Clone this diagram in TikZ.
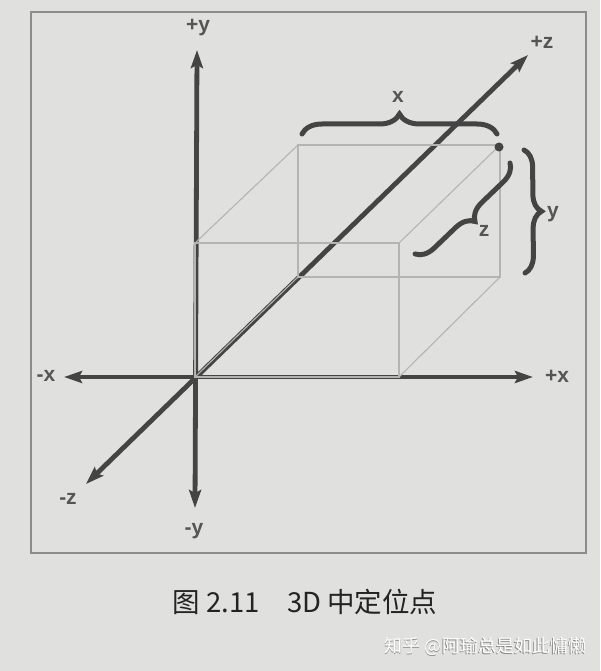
\documentclass[tikz,border=0pt]{standalone}
\usepackage{fontspec}
\setmainfont{Liberation Sans}
\newfontfamily\cjk{Noto Sans CJK SC}
\usetikzlibrary{arrows.meta,decorations.pathreplacing}
\definecolor{paper}{RGB}{224,224,222}
\definecolor{axisc}{RGB}{68,68,68}
\definecolor{boxc}{RGB}{180,180,178}
\definecolor{framec}{RGB}{140,140,140}
\definecolor{labc}{RGB}{85,85,85}
\definecolor{capc}{RGB}{35,35,35}
\begin{document}
\begin{tikzpicture}[x=1pt,y=-1pt,
  axisline/.style={line width=4.8pt, draw=axisc,
    {Stealth[length=18pt,width=12pt,inset=3pt]}-{Stealth[length=18pt,width=12pt,inset=3pt]}},
  boxline/.style={line width=1.1pt, draw=boxc},
  lab/.style={text=labc, font=\bfseries\fontsize{21}{21}\selectfont, inner sep=0pt},
  bracestyle/.style={decorate, decoration={brace, amplitude=#1}, line width=5pt, draw=axisc, line cap=round},
  framebox/.style={line width=1.4pt, draw=framec}]
\fill[paper] (0,0) rectangle (600,671);
\useasboundingbox (0,0) rectangle (600,671);
% frame
\draw[framebox] (31,12) rectangle (586,553);
% axis coordinates
\coordinate (O) at (195,377);
\coordinate (xm) at (64,377);
\coordinate (xp) at (533,377);
\coordinate (yp) at (197,50);
\coordinate (ym) at (195,508);
\coordinate (zm) at (86,484);
\coordinate (zp) at (528,55);
% axes
\draw[axisline] (xm) -- (xp);
\draw[axisline] (ym) -- (yp);
\draw[axisline] (zm) -- (zp);
% box corners
\coordinate (f1) at (195,377);
\coordinate (f2) at (399,377);
\coordinate (f3) at (399,243);
\coordinate (f4) at (195,243);
\coordinate (b1) at (298,277);
\coordinate (b2) at (500,277);
\coordinate (b3) at (500,145);
\coordinate (b4) at (298,145);
\draw[boxline] (f1) -- (f2) -- (f3) -- (f4) -- cycle;
\draw[boxline] (b1) -- (b2) -- (b3) -- (b4) -- cycle;
\draw[boxline] (f1) -- (b1);
\draw[boxline] (f2) -- (b2);
\draw[boxline] (f3) -- (b3);
\draw[boxline] (f4) -- (b4);
% point
\node[circle, fill=axisc, minimum size=9pt, inner sep=0pt] (P) at (499,147) {};
% braces
\coordinate (bx1) at (302,134);
\coordinate (bx2) at (497,134);
\coordinate (by1) at (524,150);
\coordinate (by2) at (525,273);
\coordinate (bz1) at (510,163);
\coordinate (bz2) at (415,254);
\draw[bracestyle=20pt] (bx1) -- (bx2);
\draw[bracestyle=17pt] (by1) -- (by2);
\draw[bracestyle=18pt] (bz1) -- (bz2);
% labels
\node[lab] (lx) at (398,97) {x};
\node[lab] (ly) at (553,214) {y};
\node[lab] (lz) at (484,231) {z};
\node[lab] (lyp) at (198,28) {+y};
\node[lab] (lym) at (194,531) {-y};
\node[lab] (lxp) at (557,376) {+x};
\node[lab] (lxm) at (46,376) {-x};
\node[lab] (lzp) at (542,42) {+z};
\node[lab] (lzm) at (68,499) {-z};
% caption
\node[text=capc, inner sep=0pt, font=\cjk\fontsize{27.5}{27.5}\selectfont] (cap) at (305,602) {图 2.11\quad 3D 中定位点};
% watermark
\node[text=black!45, inner sep=0pt, font=\cjk\fontsize{18}{18}\selectfont] (wms) at (484.8,647.2) {知乎 @阿瑜总是如此慵懒};
\node[text=white, inner sep=0pt, font=\cjk\fontsize{18}{18}\selectfont] (wm) at (485.5,646) {知乎 @阿瑜总是如此慵懒};
\end{tikzpicture}
\end{document}
